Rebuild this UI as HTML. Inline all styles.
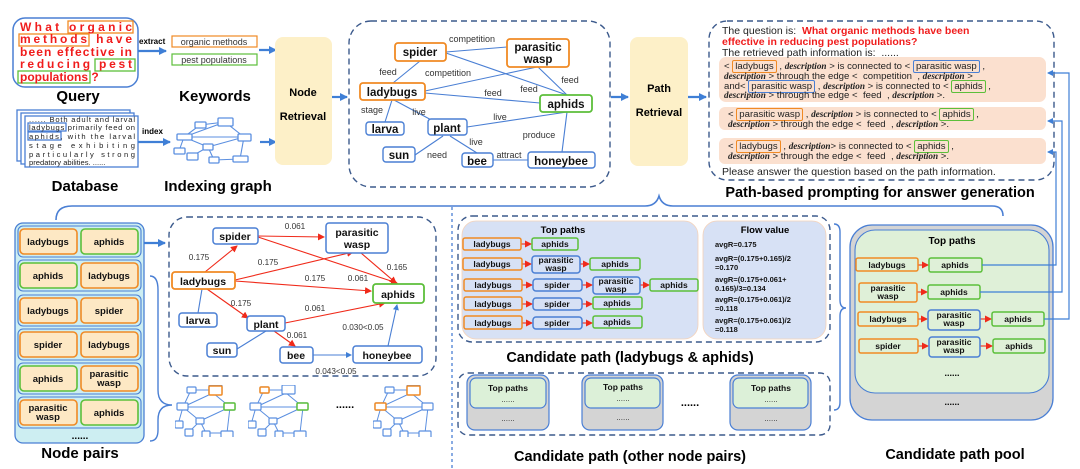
<!DOCTYPE html>
<html><head><meta charset="utf-8"><style>
html,body{margin:0;padding:0;background:#fff;}
#w{position:relative;width:1080px;height:469px;overflow:hidden;font-family:"Liberation Sans",Arial,sans-serif;}
svg{position:absolute;left:0;top:0;}
.pt{position:absolute;font-size:9.6px;line-height:8.8px;color:#222;white-space:nowrap;}
.pt i{font-family:"Liberation Serif",serif;font-weight:bold;font-style:italic;font-size:9.2px;}
.bo{border:1.4px solid #f08a24;border-radius:2px;padding:0 2px;line-height:7px;}
.bb{border:1.4px solid #4a7fd4;border-radius:2px;padding:0 2px;line-height:7px;}
.bg{border:1.4px solid #5cbf3a;border-radius:2px;padding:0 2px;line-height:7px;}
</style></head><body><div id="w">
<svg width="1080" height="469" viewBox="0 0 1080 469" font-family="Liberation Sans, Arial, sans-serif">
<defs>
<marker id="ab" markerWidth="8" markerHeight="8" refX="7" refY="4" orient="auto" markerUnits="userSpaceOnUse"><path d="M0,0L8,4L0,8z" fill="#3f7fd6"/></marker>
<marker id="ar" markerWidth="7" markerHeight="7" refX="6" refY="3.5" orient="auto" markerUnits="userSpaceOnUse"><path d="M0,0L7,3.5L0,7z" fill="#f02a1a"/></marker>
<marker id="abs" markerWidth="6" markerHeight="6" refX="5" refY="3" orient="auto" markerUnits="userSpaceOnUse"><path d="M0,0L6,3L0,6z" fill="#3f7fd6"/></marker>
<symbol id="sg" viewBox="0 0 70 52" width="70" height="52">
<g stroke="#5b8fe0" stroke-width="1" fill="none">
<line x1="16" y1="5" x2="40" y2="5"/><line x1="16" y1="5" x2="8" y2="22"/><line x1="38" y1="8" x2="8" y2="22"/><line x1="38" y1="8" x2="55" y2="22"/><line x1="8" y1="22" x2="55" y2="22"/><line x1="8" y1="22" x2="4" y2="36"/><line x1="8" y1="22" x2="25" y2="36"/><line x1="25" y1="36" x2="55" y2="22"/><line x1="25" y1="36" x2="14" y2="47"/><line x1="25" y1="36" x2="31" y2="48"/><line x1="31" y1="48" x2="52" y2="48"/><line x1="52" y1="48" x2="55" y2="22"/>
</g>
<g fill="#fff" stroke="#5b8fe0" stroke-width="1.2">
<rect x="12" y="2" width="9" height="6" rx="1"/><rect x="34" y="0" width="13" height="9" rx="1"/><rect x="2" y="18" width="11" height="7" rx="1"/><rect x="49" y="18" width="11" height="7" rx="1"/><rect x="21" y="33" width="8" height="6" rx="1"/><rect x="0" y="36" width="8" height="7" rx="1"/><rect x="10" y="44" width="8" height="7" rx="1"/><rect x="27" y="46" width="8" height="7" rx="1"/><rect x="46" y="46" width="12" height="7" rx="1"/>
</g>
</symbol>
</defs>

<!-- Query -->
<rect x="13" y="18" width="125" height="69" rx="12" fill="#fff" stroke="#4a7fd4" stroke-width="1.5"/>
<rect x="68" y="21" width="65" height="12" fill="none" stroke="#f08a24" stroke-width="1.3"/>
<rect x="19" y="34" width="70" height="12" fill="none" stroke="#f08a24" stroke-width="1.3"/>
<rect x="95" y="59" width="40" height="12" fill="none" stroke="#5cbf3a" stroke-width="1.3"/>
<rect x="18" y="71" width="72" height="12" fill="none" stroke="#5cbf3a" stroke-width="1.3"/>
<g fill="#f01c1c" font-size="12" font-weight="bold">
<text x="20" y="31" textLength="112" lengthAdjust="spacing">What organic</text>
<text x="20" y="43" textLength="112" lengthAdjust="spacing">methods have</text>
<text x="20" y="56" textLength="112" lengthAdjust="spacing">been effective in</text>
<text x="20" y="68" textLength="112" lengthAdjust="spacing">reducing pest</text>
<text x="20" y="81">populations ?</text>
</g>
<text x="78" y="101" font-size="15" font-weight="bold" text-anchor="middle">Query</text>
<text x="139" y="44" font-size="8" font-weight="bold">extract</text>
<line x1="138" y1="51" x2="166" y2="51" stroke="#3f7fd6" stroke-width="2.2" marker-end="url(#ab)"/>
<rect x="172" y="36" width="85" height="11" fill="#fff" stroke="#f08a24" stroke-width="1.2"/>
<text x="214" y="45" font-size="9" text-anchor="middle" fill="#333">organic methods</text>
<rect x="172" y="54" width="85" height="11" fill="#fff" stroke="#5cbf3a" stroke-width="1.2"/>
<text x="214" y="63" font-size="9" text-anchor="middle" fill="#333">pest populations</text>
<line x1="259" y1="50" x2="276" y2="50" stroke="#3f7fd6" stroke-width="2.2" marker-end="url(#ab)"/>
<text x="215" y="101" font-size="15" font-weight="bold" text-anchor="middle">Keywords</text>

<!-- Database -->
<rect x="17" y="110" width="113" height="51" fill="#fff" stroke="#4a7fd4" stroke-width="1.3"/>
<rect x="21" y="113" width="113" height="51" fill="#fff" stroke="#4a7fd4" stroke-width="1.3"/>
<rect x="25" y="116" width="113" height="51" fill="#fff" stroke="#4a7fd4" stroke-width="1.3"/>
<rect x="28" y="123" width="38" height="8" fill="none" stroke="#4a7fd4" stroke-width="1.3"/>
<rect x="28" y="132" width="33" height="8" fill="none" stroke="#4a7fd4" stroke-width="1.3"/>
<g font-size="7.6" fill="#222">
<text x="29" y="122" textLength="106" lengthAdjust="spacing">...... Both adult and larval</text>
<text x="29" y="130" textLength="106" lengthAdjust="spacing">ladybugs primarily feed on</text>
<text x="29" y="139" textLength="106" lengthAdjust="spacing">aphids, with the larval</text>
<text x="29" y="148" textLength="106" lengthAdjust="spacing">stage exhibiting</text>
<text x="29" y="157" textLength="106" lengthAdjust="spacing">particularly strong</text>
<text x="29" y="165">predatory abilities. ......</text>
</g>
<text x="85" y="191" font-size="15" font-weight="bold" text-anchor="middle">Database</text>
<text x="142" y="134" font-size="8" font-weight="bold">index</text>
<line x1="138" y1="142" x2="170" y2="142" stroke="#3f7fd6" stroke-width="2.2" marker-end="url(#ab)"/>
<!-- indexing graph -->
<g stroke="#5b8fe0" stroke-width="1.1" fill="none">
<line x1="200" y1="125" x2="225" y2="122"/><line x1="200" y1="125" x2="184" y2="137"/><line x1="225" y1="122" x2="244" y2="137"/><line x1="184" y1="137" x2="244" y2="137"/><line x1="184" y1="137" x2="225" y2="122"/><line x1="184" y1="137" x2="179" y2="151"/><line x1="184" y1="137" x2="208" y2="147"/><line x1="208" y1="147" x2="244" y2="137"/><line x1="208" y1="147" x2="192" y2="156"/><line x1="208" y1="147" x2="214" y2="160"/><line x1="214" y1="160" x2="240" y2="159"/><line x1="240" y1="159" x2="244" y2="137"/>
</g>
<g fill="#fff" stroke="#5b8fe0" stroke-width="1.3">
<rect x="195" y="122" width="11" height="6" rx="1"/><rect x="218" y="118" width="15" height="8" rx="1"/><rect x="177" y="134" width="15" height="6" rx="1"/><rect x="238" y="134" width="13" height="7" rx="1"/><rect x="203" y="144" width="10" height="6" rx="1"/><rect x="174" y="148" width="11" height="6" rx="1"/><rect x="187" y="153" width="11" height="7" rx="1"/><rect x="209" y="157" width="10" height="6" rx="1"/><rect x="233" y="156" width="15" height="6" rx="1"/>
</g>
<line x1="260" y1="142" x2="276" y2="142" stroke="#3f7fd6" stroke-width="2.2" marker-end="url(#ab)"/>
<text x="218" y="191" font-size="15" font-weight="bold" text-anchor="middle">Indexing graph</text>

<!-- Node retrieval -->
<rect x="275" y="37" width="57" height="128" rx="8" fill="#fdf0c8"/>
<text x="303" y="96" font-size="11" font-weight="bold" text-anchor="middle">Node</text>
<text x="303" y="120" font-size="11" font-weight="bold" text-anchor="middle">Retrieval</text>
<line x1="332" y1="97" x2="347" y2="97" stroke="#3f7fd6" stroke-width="2.2" marker-end="url(#ab)"/>

<!-- KG box -->
<rect x="349" y="21" width="261" height="166" rx="22" fill="none" stroke="#3c5a8c" stroke-width="1.4" stroke-dasharray="6,4"/>
<g stroke="#4a7fd4" stroke-width="1.1">
<line x1="446" y1="52" x2="507" y2="47"/><line x1="446" y1="53" x2="567" y2="95"/><line x1="420" y1="61" x2="393" y2="83"/><line x1="425" y1="91" x2="537" y2="67"/><line x1="538" y1="67" x2="567" y2="95"/><line x1="425" y1="93" x2="540" y2="103"/><line x1="392" y1="100" x2="385" y2="122"/><line x1="394" y1="100" x2="437" y2="123"/><line x1="467" y1="127" x2="567" y2="112"/><line x1="567" y1="112" x2="562" y2="152"/><line x1="443" y1="136" x2="415" y2="155"/><line x1="450" y1="136" x2="477" y2="153"/><line x1="493" y1="160" x2="528" y2="160"/>
</g>
<g font-size="9" fill="#333" text-anchor="middle">
<text x="472" y="42">competition</text><text x="388" y="75">feed</text><text x="448" y="76">competition</text><text x="570" y="83">feed</text><text x="529" y="92">feed</text><text x="493" y="96">feed</text><text x="372" y="113">stage</text><text x="419" y="115">live</text><text x="500" y="120">live</text><text x="539" y="138">produce</text><text x="476" y="145">live</text><text x="437" y="158">need</text><text x="509" y="158">attract</text>
</g>
<g stroke-width="1.8" fill="#fff">
<rect x="395" y="43" width="51" height="18" rx="3" stroke="#f08a24"/>
<rect x="507" y="39" width="62" height="28" rx="3" stroke="#f08a24"/>
<rect x="360" y="83" width="65" height="17" rx="3" stroke="#f08a24"/>
<rect x="540" y="95" width="52" height="17" rx="3" stroke="#5cbf3a"/>
<rect x="366" y="122" width="38" height="13" rx="3" stroke="#4a7fd4" stroke-width="1.4"/>
<rect x="428" y="119" width="39" height="16" rx="3" stroke="#4a7fd4" stroke-width="1.4"/>
<rect x="383" y="147" width="32" height="15" rx="3" stroke="#4a7fd4" stroke-width="1.4"/>
<rect x="462" y="153" width="31" height="14" rx="3" stroke="#4a7fd4" stroke-width="1.4"/>
<rect x="528" y="152" width="67" height="16" rx="3" stroke="#4a7fd4" stroke-width="1.4"/>
</g>
<g font-size="11.5" font-weight="bold" text-anchor="middle" fill="#111">
<text x="420" y="56">spider</text><text x="538" y="51">parasitic</text><text x="538" y="63">wasp</text><text x="392" y="96">ladybugs</text><text x="566" y="108">aphids</text><text x="385" y="133">larva</text><text x="447" y="132">plant</text><text x="399" y="159">sun</text><text x="477" y="165">bee</text><text x="561" y="165">honeybee</text>
</g>

<!-- Path retrieval -->
<line x1="611" y1="97" x2="628" y2="97" stroke="#3f7fd6" stroke-width="2.2" marker-end="url(#ab)"/>
<rect x="630" y="37" width="58" height="129" rx="8" fill="#fdf0c8"/>
<text x="659" y="92" font-size="11" font-weight="bold" text-anchor="middle">Path</text>
<text x="659" y="116" font-size="11" font-weight="bold" text-anchor="middle">Retrieval</text>
<line x1="688" y1="97" x2="706" y2="97" stroke="#3f7fd6" stroke-width="2.2" marker-end="url(#ab)"/>

<!-- Prompt box -->
<rect x="709" y="21" width="345" height="159" rx="18" fill="none" stroke="#3c5a8c" stroke-width="1.4" stroke-dasharray="6,4"/>
<rect x="719" y="57" width="327" height="45" rx="7" fill="#fbe0cf"/>
<rect x="719" y="107" width="327" height="23" rx="6" fill="#fbe0cf"/>
<rect x="719" y="138" width="327" height="26" rx="6" fill="#fbe0cf"/>
<text x="880" y="197" font-size="14.5" font-weight="bold" text-anchor="middle">Path-based prompting for answer generation</text>

<!-- big brace -->
<path d="M56,220 Q56,206 72,206 L645,206 Q656,206 659,196 Q662,206 673,206 L992,206 Q1003,206 1003,216" fill="none" stroke="#4a7fd4" stroke-width="1.6"/>
<line x1="452" y1="207" x2="452" y2="469" stroke="#4a7fd4" stroke-width="1.3" stroke-dasharray="3,3"/>

<!-- Node pairs -->
<rect x="15" y="223" width="129" height="220" rx="8" fill="#cdeef2" stroke="#4a7fd4" stroke-width="1.3"/>
<g stroke="#4a7fd4" stroke-width="1.1" fill="#cdeef2">
<rect x="18" y="226" width="123" height="31" rx="5"/><rect x="18" y="260" width="123" height="31" rx="5"/><rect x="18" y="295" width="123" height="31" rx="5"/><rect x="18" y="329" width="123" height="31" rx="5"/><rect x="18" y="363" width="123" height="31" rx="5"/><rect x="18" y="397" width="123" height="31" rx="5"/>
</g>
<g stroke-width="1.6" fill="#fde8c4">
<rect x="20" y="229" width="57" height="25" rx="4" stroke="#f08a24"/><rect x="81" y="229" width="57" height="25" rx="4" stroke="#5cbf3a"/>
<rect x="20" y="263" width="57" height="25" rx="4" stroke="#5cbf3a"/><rect x="81" y="263" width="57" height="25" rx="4" stroke="#f08a24"/>
<rect x="20" y="298" width="57" height="25" rx="4" stroke="#f08a24"/><rect x="81" y="298" width="57" height="25" rx="4" stroke="#f08a24"/>
<rect x="20" y="332" width="57" height="25" rx="4" stroke="#f08a24"/><rect x="81" y="332" width="57" height="25" rx="4" stroke="#f08a24"/>
<rect x="20" y="366" width="57" height="25" rx="4" stroke="#5cbf3a"/><rect x="81" y="366" width="57" height="25" rx="4" stroke="#f08a24"/>
<rect x="20" y="400" width="57" height="25" rx="4" stroke="#f08a24"/><rect x="81" y="400" width="57" height="25" rx="4" stroke="#5cbf3a"/>
</g>
<g font-size="9.5" font-weight="bold" text-anchor="middle" fill="#111">
<text x="48" y="245">ladybugs</text><text x="109" y="245">aphids</text>
<text x="48" y="279">aphids</text><text x="109" y="279">ladybugs</text>
<text x="48" y="314">ladybugs</text><text x="109" y="314">spider</text>
<text x="48" y="348">spider</text><text x="109" y="348">ladybugs</text>
<text x="48" y="382">aphids</text><text x="109" y="377">parasitic</text><text x="109" y="386">wasp</text>
<text x="48" y="411">parasitic</text><text x="48" y="420">wasp</text><text x="109" y="416">aphids</text>
</g>
<text x="80" y="439" font-size="10" font-weight="bold" text-anchor="middle">......</text>
<text x="80" y="458" font-size="15" font-weight="bold" text-anchor="middle">Node pairs</text>
<line x1="144" y1="243" x2="165" y2="243" stroke="#3f7fd6" stroke-width="2.2" marker-end="url(#ab)"/>
<path d="M150,276 Q158,276 158,290 L158,390 Q158,405 172,405 Q158,405 158,420 L158,430 Q158,441 150,441" fill="none" stroke="#4a7fd4" stroke-width="1.4"/>

<!-- weighted graph -->
<rect x="169" y="217" width="267" height="159" rx="18" fill="none" stroke="#3c5a8c" stroke-width="1.4" stroke-dasharray="6,4"/>
<g stroke="#f02a1a" stroke-width="1.1" marker-end="url(#ar)">
<line x1="258" y1="236" x2="324" y2="237"/><line x1="258" y1="237" x2="397" y2="283"/><line x1="205" y1="272" x2="237" y2="246"/><line x1="235" y1="280" x2="353" y2="252"/><line x1="235" y1="281" x2="371" y2="291"/><line x1="207" y1="289" x2="248" y2="318"/><line x1="285" y1="323" x2="385" y2="303"/><line x1="274" y1="331" x2="295" y2="346"/><line x1="361" y1="253" x2="396" y2="283"/>
</g>
<g stroke="#4a7fd4" stroke-width="1.1">
<line x1="202" y1="289" x2="198" y2="313"/><line x1="266" y1="331" x2="237" y2="349"/>
<line x1="313" y1="355" x2="351" y2="355" marker-end="url(#abs)"/><line x1="388" y1="346" x2="397" y2="305" marker-end="url(#abs)"/>
</g>
<g font-size="8.2" fill="#333" text-anchor="middle">
<text x="295" y="229">0.061</text><text x="199" y="260">0.175</text><text x="268" y="265">0.175</text><text x="397" y="270">0.165</text><text x="315" y="281">0.175</text><text x="358" y="281">0.061</text><text x="241" y="306">0.175</text><text x="315" y="311">0.061</text><text x="297" y="338">0.061</text><text x="363" y="330">0.030&lt;0.05</text><text x="336" y="374">0.043&lt;0.05</text>
</g>
<g stroke-width="1.5" fill="#fff">
<rect x="213" y="228" width="45" height="16" rx="3" stroke="#4a7fd4"/>
<rect x="326" y="223" width="62" height="30" rx="3" stroke="#4a7fd4"/>
<rect x="172" y="272" width="63" height="17" rx="3" stroke="#f08a24" stroke-width="1.8"/>
<rect x="373" y="284" width="51" height="19" rx="3" stroke="#5cbf3a" stroke-width="1.8"/>
<rect x="179" y="313" width="38" height="14" rx="3" stroke="#4a7fd4"/>
<rect x="247" y="316" width="38" height="15" rx="3" stroke="#4a7fd4"/>
<rect x="207" y="343" width="30" height="14" rx="3" stroke="#4a7fd4"/>
<rect x="280" y="347" width="33" height="16" rx="3" stroke="#4a7fd4"/>
<rect x="353" y="346" width="69" height="17" rx="3" stroke="#4a7fd4"/>
</g>
<g font-size="10.5" font-weight="bold" text-anchor="middle" fill="#111">
<text x="235" y="240">spider</text><text x="357" y="236">parasitic</text><text x="357" y="248">wasp</text><text x="203" y="285">ladybugs</text><text x="398" y="298">aphids</text><text x="198" y="324">larva</text><text x="266" y="328">plant</text><text x="222" y="354">sun</text><text x="296" y="359">bee</text><text x="387" y="359">honeybee</text>
</g>
<!-- small graphs -->
<use href="#sg" x="175" y="385" width="70" height="52"/>
<rect x="209" y="386" width="13" height="9" rx="1" fill="#fff" stroke="#f08a24" stroke-width="1.5"/>
<rect x="224" y="403" width="11" height="7" rx="1" fill="#fff" stroke="#5cbf3a" stroke-width="1.5"/>
<use href="#sg" x="248" y="385" width="70" height="52"/>
<rect x="260" y="387" width="9" height="6" rx="1" fill="#fff" stroke="#f08a24" stroke-width="1.5"/>
<rect x="297" y="403" width="11" height="7" rx="1" fill="#fff" stroke="#5cbf3a" stroke-width="1.5"/>
<text x="345" y="408" font-size="11" font-weight="bold" text-anchor="middle">......</text>
<use href="#sg" x="373" y="385" width="70" height="52"/>
<rect x="407" y="386" width="13" height="9" rx="1" fill="#fff" stroke="#f08a24" stroke-width="1.5"/>
<rect x="375" y="403" width="11" height="7" rx="1" fill="#fff" stroke="#f08a24" stroke-width="1.5"/>

<!-- Candidate path ladybugs & aphids -->
<rect x="458" y="216" width="372" height="126" rx="14" fill="none" stroke="#3c5a8c" stroke-width="1.4" stroke-dasharray="6,4"/>
<rect x="462" y="221" width="236" height="118" rx="14" fill="#d7e1f5" stroke="#f5d2b8" stroke-width="0.8"/>
<rect x="703" y="221" width="123" height="118" rx="14" fill="#d7e1f5" stroke="#f5d2b8" stroke-width="0.8"/>
<text x="563" y="233" font-size="9.5" font-weight="bold" text-anchor="middle">Top paths</text>
<text x="765" y="233" font-size="9.5" font-weight="bold" text-anchor="middle">Flow value</text>
<g stroke="#f02a1a" stroke-width="1.1" marker-end="url(#ar)">
<line x1="521" y1="244" x2="531" y2="244"/>
<line x1="522" y1="264" x2="531" y2="264"/><line x1="580" y1="264" x2="589" y2="264"/>
<line x1="522" y1="285" x2="532" y2="285"/><line x1="582" y1="285" x2="592" y2="285"/><line x1="640" y1="285" x2="649" y2="285"/>
<line x1="522" y1="304" x2="532" y2="304"/><line x1="582" y1="304" x2="592" y2="304"/>
<line x1="522" y1="323" x2="532" y2="323"/><line x1="582" y1="323" x2="592" y2="323"/>
</g>
<g stroke-width="1.5" fill="#d7e1f5">
<rect x="463" y="238" width="58" height="12" rx="2" stroke="#f08a24"/><rect x="532" y="238" width="46" height="12" rx="2" stroke="#5cbf3a"/>
<rect x="463" y="258" width="59" height="12" rx="2" stroke="#f08a24"/><rect x="532" y="256" width="48" height="17" rx="3" stroke="#4a7fd4"/><rect x="590" y="258" width="50" height="12" rx="2" stroke="#5cbf3a"/>
<rect x="464" y="279" width="58" height="12" rx="2" stroke="#f08a24"/><rect x="533" y="279" width="49" height="12" rx="3" stroke="#4a7fd4"/><rect x="593" y="277" width="47" height="17" rx="3" stroke="#4a7fd4"/><rect x="650" y="279" width="48" height="12" rx="2" stroke="#5cbf3a"/>
<rect x="464" y="297" width="58" height="13" rx="2" stroke="#f08a24"/><rect x="533" y="298" width="49" height="12" rx="3" stroke="#4a7fd4"/><rect x="593" y="297" width="49" height="12" rx="2" stroke="#5cbf3a"/>
<rect x="464" y="316" width="58" height="13" rx="2" stroke="#f08a24"/><rect x="533" y="317" width="49" height="12" rx="3" stroke="#4a7fd4"/><rect x="593" y="316" width="49" height="12" rx="2" stroke="#5cbf3a"/>
</g>
<g font-size="8.5" font-weight="bold" text-anchor="middle" fill="#111">
<text x="492" y="247">ladybugs</text><text x="555" y="247">aphids</text>
<text x="492" y="267">ladybugs</text><text x="556" y="263">parasitic</text><text x="556" y="271">wasp</text><text x="615" y="267">aphids</text>
<text x="493" y="288">ladybugs</text><text x="557" y="288">spider</text><text x="616" y="284">parasitic</text><text x="616" y="292">wasp</text><text x="674" y="288">aphids</text>
<text x="493" y="307">ladybugs</text><text x="557" y="307">spider</text><text x="617" y="306">aphids</text>
<text x="493" y="326">ladybugs</text><text x="557" y="326">spider</text><text x="617" y="325">aphids</text>
</g>
<g font-size="7.5" font-weight="bold" fill="#111">
<text x="715" y="247">avgR=0.175</text>
<text x="715" y="261">avgR=(0.175+0.165)/2</text><text x="715" y="270">=0.170</text>
<text x="715" y="282">avgR=(0.175+0.061+</text><text x="715" y="291">0.165)/3=0.134</text>
<text x="715" y="302">avgR=(0.175+0.061)/2</text><text x="715" y="311">=0.118</text>
<text x="715" y="323">avgR=(0.175+0.061)/2</text><text x="715" y="332">=0.118</text>
</g>
<text x="630" y="362" font-size="14.5" font-weight="bold" text-anchor="middle">Candidate path (ladybugs &amp; aphids)</text>

<!-- other pairs -->
<rect x="458" y="373" width="372" height="62" rx="10" fill="none" stroke="#3c5a8c" stroke-width="1.4" stroke-dasharray="6,4"/>
<g stroke="#4a7fd4" stroke-width="1.2">
<rect x="467" y="375" width="82" height="55" rx="8" fill="#d4d4d4"/><rect x="470" y="378" width="76" height="30" rx="6" fill="#dcf0d8"/>
<rect x="582" y="375" width="81" height="55" rx="8" fill="#d4d4d4"/><rect x="585" y="378" width="75" height="30" rx="6" fill="#dcf0d8"/>
<rect x="730" y="375" width="81" height="55" rx="8" fill="#d4d4d4"/><rect x="733" y="378" width="75" height="30" rx="6" fill="#dcf0d8"/>
</g>
<g font-size="8.5" font-weight="bold" text-anchor="middle" fill="#111">
<text x="508" y="391">Top paths</text><text x="623" y="390">Top paths</text><text x="771" y="391">Top paths</text>
</g>
<g font-size="8" text-anchor="middle" fill="#333">
<text x="508" y="402">......</text><text x="623" y="401">......</text><text x="771" y="402">......</text>
<text x="508" y="421">......</text><text x="623" y="420">......</text><text x="771" y="421">......</text>
</g>
<text x="690" y="406" font-size="11" font-weight="bold" text-anchor="middle">......</text>
<text x="630" y="461" font-size="14.5" font-weight="bold" text-anchor="middle">Candidate path (other node pairs)</text>
<path d="M834,224 Q840,224 840,232 L840,300 Q840,308 846,308 Q840,308 840,316 L840,402 Q840,410 834,410" fill="none" stroke="#4a7fd4" stroke-width="1.4"/>

<!-- pool -->
<rect x="850" y="225" width="203" height="195" rx="22" fill="#d4d4d4" stroke="#4a7fd4" stroke-width="1.3"/>
<rect x="855" y="230" width="194" height="163" rx="20" fill="#dff0d8" stroke="#4a7fd4" stroke-width="1.1"/>
<text x="952" y="244" font-size="10" font-weight="bold" text-anchor="middle">Top paths</text>
<g stroke="#f02a1a" stroke-width="1.1" marker-end="url(#ar)">
<line x1="918" y1="265" x2="928" y2="265"/><line x1="917" y1="292" x2="927" y2="292"/><line x1="918" y1="319" x2="927" y2="319"/><line x1="980" y1="319" x2="991" y2="319"/><line x1="918" y1="346" x2="928" y2="346"/><line x1="980" y1="346" x2="992" y2="346"/>
</g>
<g stroke-width="1.5" fill="#dff0d8">
<rect x="856" y="258" width="62" height="13" rx="2" stroke="#f08a24"/><rect x="929" y="258" width="53" height="14" rx="2" stroke="#5cbf3a"/>
<rect x="859" y="283" width="58" height="19" rx="2" stroke="#f08a24"/><rect x="928" y="285" width="52" height="14" rx="2" stroke="#5cbf3a"/>
<rect x="858" y="312" width="60" height="14" rx="2" stroke="#f08a24"/><rect x="928" y="310" width="52" height="20" rx="3" stroke="#4a7fd4"/><rect x="992" y="312" width="52" height="14" rx="2" stroke="#5cbf3a"/>
<rect x="859" y="339" width="59" height="14" rx="2" stroke="#f08a24"/><rect x="929" y="337" width="51" height="20" rx="3" stroke="#4a7fd4"/><rect x="993" y="339" width="52" height="14" rx="2" stroke="#5cbf3a"/>
</g>
<g font-size="8.5" font-weight="bold" text-anchor="middle" fill="#111">
<text x="887" y="268">ladybugs</text><text x="955" y="268">aphids</text>
<text x="888" y="291">parasitic</text><text x="888" y="299">wasp</text><text x="954" y="295">aphids</text>
<text x="888" y="322">ladybugs</text><text x="954" y="318">parasitic</text><text x="954" y="326">wasp</text><text x="1018" y="322">aphids</text>
<text x="888" y="349">spider</text><text x="954" y="345">parasitic</text><text x="954" y="353">wasp</text><text x="1019" y="349">aphids</text>
</g>
<text x="952" y="376" font-size="9" font-weight="bold" text-anchor="middle">......</text>
<text x="952" y="405" font-size="9" font-weight="bold" text-anchor="middle">......</text>
<text x="955" y="459" font-size="14.5" font-weight="bold" text-anchor="middle">Candidate path pool</text>

<!-- feedback connectors -->
<g fill="none" stroke="#3f7fd6" stroke-width="1.2">
<path d="M982,265 L1056,265 L1056,152 L1048,152" marker-end="url(#abs)"/>
<path d="M980,292 L1062,292 L1062,121 L1048,121" marker-end="url(#abs)"/>
<path d="M1044,319 L1069,319 L1069,73 L1048,73" marker-end="url(#abs)"/>
</g>
</svg>

<div class="pt" style="left:722px;top:26px;font-size:10.5px;line-height:11px;">The question is:&nbsp; <span style="color:#f01c1c;font-weight:bold;">What organic methods have been</span><br><span style="color:#f01c1c;font-weight:bold;">effective in reducing pest populations?</span><br>The retrieved path information is:&nbsp; ......</div>
<div class="pt" style="left:724px;top:62px;">&lt; <span class="bo">ladybugs</span> , <i>description</i> &gt; is connected to &lt; <span class="bb">parasitic wasp</span> ,<br><i>description</i> &gt; through the edge &lt;&nbsp; competition&nbsp; , <i>description</i> &gt;<br>and&lt; <span class="bb">parasitic wasp</span> , <i>description</i> &gt; is connected to &lt; <span class="bg">aphids</span> ,<br><i>description</i> &gt; through the edge &lt;&nbsp; feed&nbsp; , <i>description</i> &gt;.</div>
<div class="pt" style="left:728px;top:110px;">&lt; <span class="bo">parasitic wasp</span> , <i>description</i> &gt; is connected to &lt; <span class="bg">aphids</span> ,<br><i>description</i> &gt; through the edge &lt;&nbsp; feed&nbsp; , <i>description</i> &gt;.</div>
<div class="pt" style="left:728px;top:142px;">&lt; <span class="bo">ladybugs</span> , <i>description</i>&gt; is connected to &lt; <span class="bg">aphids</span> ,<br><i>description</i> &gt; through the edge &lt;&nbsp; feed&nbsp; , <i>description</i> &gt;.</div>
<div class="pt" style="left:722px;top:167px;font-size:10.5px;line-height:11px;">Please answer the question based on the path information.</div>
</div></body></html>
